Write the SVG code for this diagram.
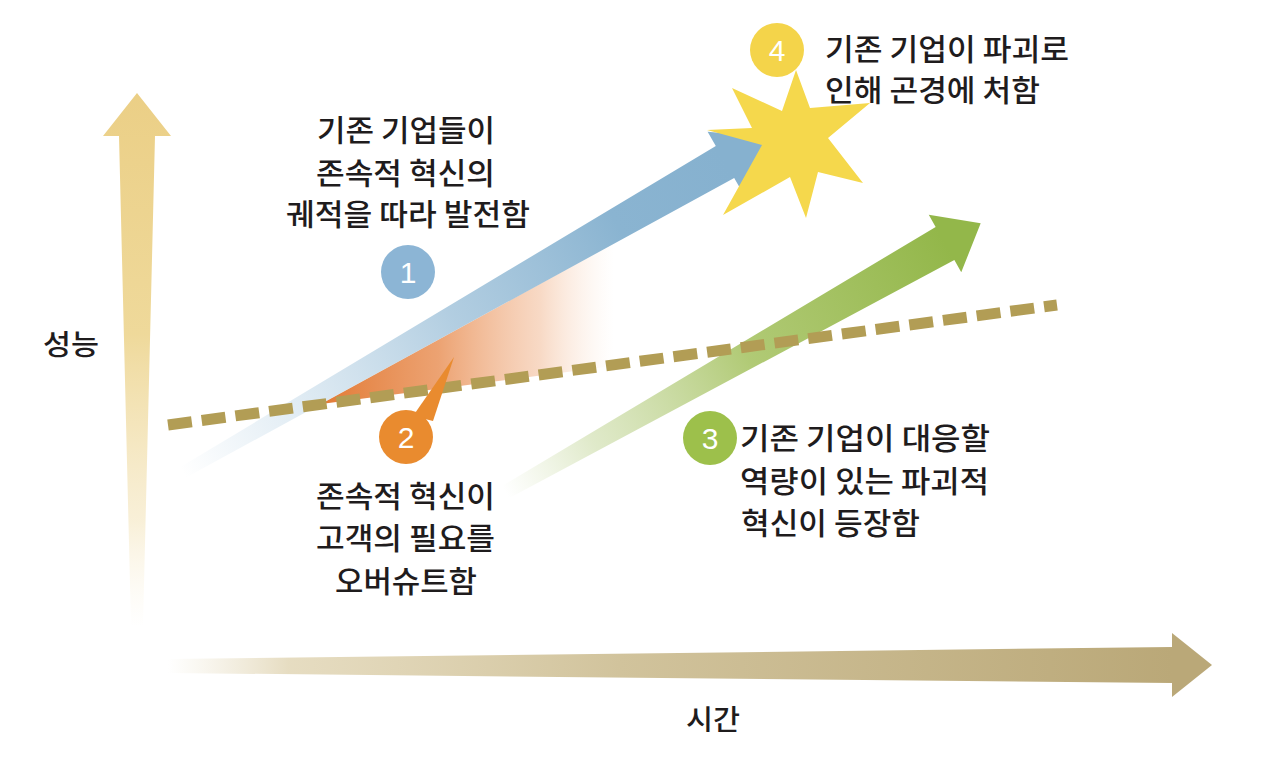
<svg xmlns="http://www.w3.org/2000/svg" width="1280" height="774" viewBox="0 0 1280 774">
<defs>
<style>
.t{font-family:"Noto Sans CJK KR","Noto Sans CJK SC",sans-serif;font-size:30px;font-weight:500;fill:#1f1c1d}
.n{font-family:"Liberation Sans Narrow","Liberation Sans",Arial,sans-serif;font-size:30px;fill:#ffffff;text-anchor:middle}
</style>
<linearGradient id="gv" gradientUnits="userSpaceOnUse" x1="0" y1="93" x2="0" y2="628">
<stop offset="0" stop-color="#ebcf86"/>
<stop offset="0.45" stop-color="#eed795" stop-opacity="0.95"/>
<stop offset="0.8" stop-color="#f3e3b8" stop-opacity="0.55"/>
<stop offset="1" stop-color="#f8efd8" stop-opacity="0"/>
</linearGradient>
<linearGradient id="gh" gradientUnits="userSpaceOnUse" x1="168" y1="0" x2="1172" y2="0">
<stop offset="0" stop-color="#e6dcc0" stop-opacity="0"/>
<stop offset="0.12" stop-color="#e0d4b2" stop-opacity="0.8"/>
<stop offset="0.45" stop-color="#d1c39c"/>
<stop offset="1" stop-color="#baa878"/>
</linearGradient>
<linearGradient id="gb" gradientUnits="userSpaceOnUse" x1="-625" y1="0" x2="0" y2="0">
<stop offset="0" stop-color="#a9c9df" stop-opacity="0"/>
<stop offset="0.18" stop-color="#a9c9df" stop-opacity="0.3"/>
<stop offset="0.5" stop-color="#98bdd7" stop-opacity="0.75"/>
<stop offset="0.8" stop-color="#8ab4d1"/>
<stop offset="1" stop-color="#86b1cf"/>
</linearGradient>
<linearGradient id="gg" gradientUnits="userSpaceOnUse" x1="-505" y1="0" x2="0" y2="0">
<stop offset="0" stop-color="#c6d8a0" stop-opacity="0"/>
<stop offset="0.2" stop-color="#c0d494" stop-opacity="0.5"/>
<stop offset="0.55" stop-color="#a8c466" stop-opacity="0.9"/>
<stop offset="1" stop-color="#93b74a"/>
</linearGradient>
<linearGradient id="go" gradientUnits="userSpaceOnUse" x1="321" y1="0" x2="614" y2="0">
<stop offset="0" stop-color="#e27a35"/>
<stop offset="0.4" stop-color="#e99259" stop-opacity="0.85"/>
<stop offset="0.75" stop-color="#f1b48c" stop-opacity="0.5"/>
<stop offset="1" stop-color="#f9dcc6" stop-opacity="0"/>
</linearGradient>
</defs>
<rect width="1280" height="774" fill="#ffffff"/>

<g id="axis-y">
<polygon points="137,93 171,136 155,136 143,625 131,625 119,136 103,136" fill="url(#gv)"/>
<text class="t" x="43" y="355" style="font-size:28px" textLength="56" lengthAdjust="spacingAndGlyphs">성능</text>
</g>

<g id="axis-x">
<polygon points="168,659 1172,647 1172,633 1212,665 1172,697 1172,683 168,673" fill="url(#gh)"/>
<text class="t" x="686" y="729.5" style="font-size:28px" textLength="54" lengthAdjust="spacingAndGlyphs">시간</text>
</g>

<g id="overshoot-area">
<polygon points="321,404 613,244 613,366" fill="url(#go)"/>
</g>

<g id="connectors">
<g id="arrow-sustaining" transform="translate(725,162) rotate(-29.8)">
<polygon points="-625,-6 0,-18.5 0,-35 50,0 0,35 0,18.5 -625,6" fill="url(#gb)"/>
</g>
<g id="arrow-disruptive" transform="translate(945,243.5) rotate(-29.5)">
<polygon points="-505,-7 0,-19 0,-33 41,0 0,33 0,19 -505,7" fill="url(#gg)"/>
</g>
<line id="customer-need" x1="168" y1="425" x2="1057" y2="305" stroke="#b29d55" stroke-width="11" stroke-dasharray="24 10"/>
</g>

<g id="star">
<polygon points="796,70 810,108 870,103 828,138 863,183 818,172 806,218 790,177 723,215 762,145 707,130 752,128 732,88 782,111" fill="#f5d84c"/>
</g>

<g id="node-1">
<circle cx="408" cy="272" r="27" fill="#8cb5d5"/>
<text class="n" x="408" y="283">1</text>
<text class="t" x="317" y="141" textLength="178" lengthAdjust="spacingAndGlyphs">기존 기업들이</text>
<text class="t" x="316" y="184" textLength="179" lengthAdjust="spacingAndGlyphs">존속적 혁신의</text>
<text class="t" x="286" y="225" textLength="244" lengthAdjust="spacingAndGlyphs">궤적을 따라 발전함</text>
</g>

<g id="node-2">
<polygon points="413,416 433,421 454,357" fill="#e98b2f"/>
<circle cx="406" cy="437" r="27" fill="#e98b2f"/>
<text class="n" x="406" y="448">2</text>
<text class="t" x="316" y="506.5" textLength="179" lengthAdjust="spacingAndGlyphs">존속적 혁신이</text>
<text class="t" x="316" y="548.5" textLength="179" lengthAdjust="spacingAndGlyphs">고객의 필요를</text>
<text class="t" x="335" y="591.5" textLength="142" lengthAdjust="spacingAndGlyphs">오버슈트함</text>
</g>

<g id="node-3">
<circle cx="710" cy="438" r="27" fill="#9dc04b"/>
<text class="n" x="710" y="449">3</text>
<text class="t" x="740" y="448.5" textLength="250" lengthAdjust="spacingAndGlyphs">기존 기업이 대응할</text>
<text class="t" x="740" y="491.5" textLength="249" lengthAdjust="spacingAndGlyphs">역량이 있는 파괴적</text>
<text class="t" x="741" y="533.5" textLength="179" lengthAdjust="spacingAndGlyphs">혁신이 등장함</text>
</g>

<g id="node-4">
<circle cx="777" cy="50" r="27" fill="#f4d44a"/>
<text class="n" x="777" y="61">4</text>
<text class="t" x="825" y="59.5" textLength="244" lengthAdjust="spacingAndGlyphs">기존 기업이 파괴로</text>
<text class="t" x="825" y="100.5" textLength="215" lengthAdjust="spacingAndGlyphs">인해 곤경에 처함</text>
</g>
</svg>
